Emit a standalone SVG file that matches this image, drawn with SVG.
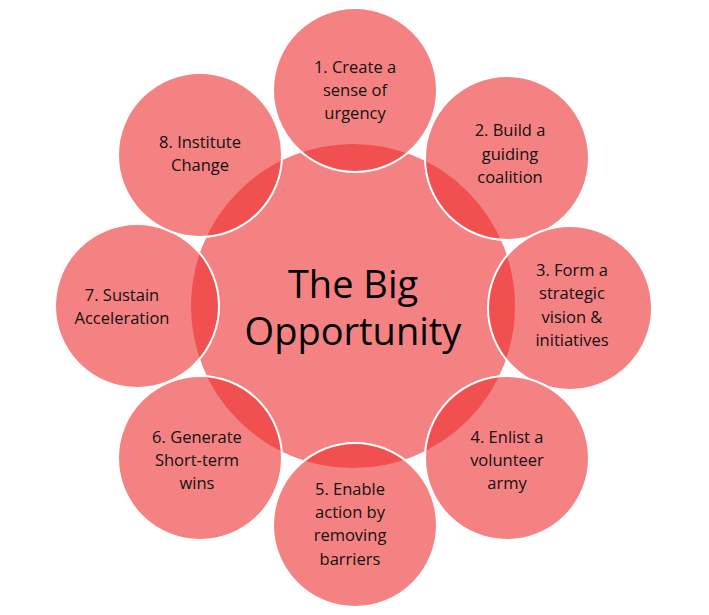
<svg xmlns="http://www.w3.org/2000/svg" width="709" height="615" viewBox="0 0 709 615">
<style>
.c{fill:#ee2e2e;fill-opacity:0.6;stroke:#fff;stroke-width:2}
.t{font-family:"Open Sans","Liberation Sans",sans-serif;font-size:16.5px;fill:#111;text-anchor:middle}
.b{font-family:"Open Sans","Liberation Sans",sans-serif;font-size:38px;fill:#000;text-anchor:middle}
</style>
<rect width="709" height="615" fill="#fff"/>
<g id="center"><circle class="c" cx="353" cy="306" r="163"/>
<text class="b" x="353" y="298">The Big</text><text class="b" x="353" y="345">Opportunity</text></g>
<g id="n1"><circle class="c" cx="355" cy="90" r="82"/><text class="t" x="355" y="73">1. Create a</text><text class="t" x="355" y="96">sense of</text><text class="t" x="355" y="119">urgency</text></g>
<g id="n2"><circle class="c" cx="507" cy="158" r="82"/><text class="t" x="510" y="136">2. Build a</text><text class="t" x="510" y="160">guiding</text><text class="t" x="510" y="183">coalition</text></g>
<g id="n3"><circle class="c" cx="570" cy="308" r="82"/><text class="t" x="572" y="276">3. Form a</text><text class="t" x="572" y="299">strategic</text><text class="t" x="572" y="323">vision &amp;</text><text class="t" x="572" y="346">initiatives</text></g>
<g id="n4"><circle class="c" cx="507" cy="458" r="82"/><text class="t" x="507" y="443">4. Enlist a</text><text class="t" x="507" y="466">volunteer</text><text class="t" x="507" y="489">army</text></g>
<g id="n5"><circle class="c" cx="355" cy="525" r="82"/><text class="t" x="350" y="495">5. Enable</text><text class="t" x="350" y="518">action by</text><text class="t" x="350" y="541">removing</text><text class="t" x="350" y="565">barriers</text></g>
<g id="n6"><circle class="c" cx="200" cy="458" r="82"/><text class="t" x="197" y="443">6. Generate</text><text class="t" x="197" y="466">Short-term</text><text class="t" x="197" y="489">wins</text></g>
<g id="n7"><circle class="c" cx="137" cy="306" r="82"/><text class="t" x="122" y="301">7. Sustain</text><text class="t" x="122" y="324">Acceleration</text></g>
<g id="n8"><circle class="c" cx="200" cy="155" r="82"/><text class="t" x="200" y="148">8. Institute</text><text class="t" x="200" y="171">Change</text></g>
<g id="connectors"></g>
</svg>
